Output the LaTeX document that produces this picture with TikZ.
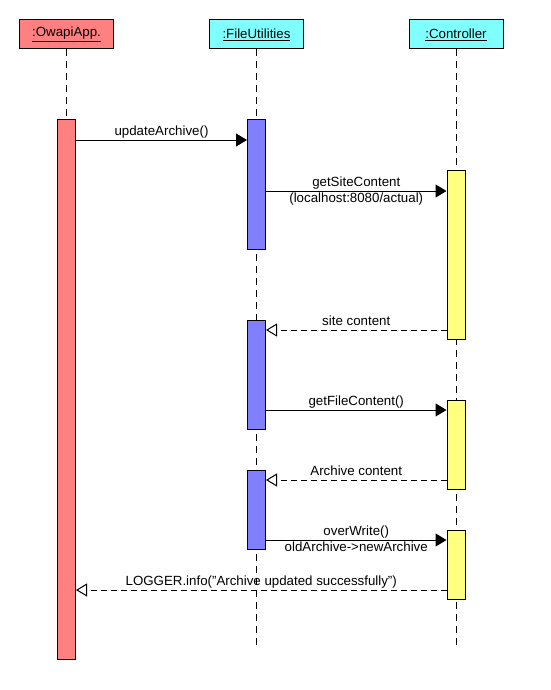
\documentclass[tikz,border=0pt]{standalone}
\usepackage{fontspec}
\setmainfont{Liberation Sans}
\usepackage{xcolor}
\usetikzlibrary{positioning}
\usetikzlibrary{arrows.meta}
\usetikzlibrary{calc}
\definecolor{owapired}{HTML}{FF8080}
\definecolor{headcyan}{HTML}{80FFFF}
\definecolor{fublue}{HTML}{8080FF}
\definecolor{ctrlyellow}{HTML}{FFFF80}
\tikzset{
  objbox/.style={draw, line width=1pt, minimum width=94pt, minimum height=29pt,
    inner sep=0pt, font=\fontsize{13.3}{15}\selectfont},
  actbar/.style={draw, line width=1pt, minimum width=18pt, inner sep=0pt},
  lifeline/.style={line width=1pt, dash pattern=on 7pt off 5pt},
  call/.style={line width=1pt, -{Triangle[length=11pt,width=13pt]}},
  reply/.style={line width=1pt, dash pattern=on 6pt off 4pt,
    -{Triangle[open,length=11pt,width=13pt]}},
  msglbl/.style={font=\fontsize{13.3}{15}\selectfont, inner sep=1pt,
    text height=9.5pt, text depth=3pt}
}

\begin{document}
\begin{tikzpicture}[x=1pt, y=-1pt]
\useasboundingbox (0,0) rectangle (550,690);

% Objects
\node[objbox, fill=owapired] (owapi) at (66.5,34.5) {\underline{:OwapiApp.}};
\node[objbox, fill=headcyan] (fileutil) at (256.5,34.5) {\underline{:FileUtilities}};
\node[objbox, fill=headcyan] (ctrl) at (456,34.5) {\underline{:Controller}};

% Lifelines
\coordinate (owapiend) at (66.5,659);
\coordinate (fileutilend) at (256.5,649);
\coordinate (ctrlend) at (456,647);
\draw[lifeline] (owapi.south) -- (owapiend);
\draw[lifeline] (fileutil.south) -- (fileutilend);
\draw[lifeline] (ctrl.south) -- (ctrlend);

% Activations
\node[actbar, fill=owapired, minimum height=539pt] (ob1) at (66.5,389.5) {};
\node[actbar, fill=fublue, minimum height=129pt] (fb1) at (256.5,184.5) {};
\node[actbar, fill=fublue, minimum height=109pt] (fb2) at (256.5,374.5) {};
\node[actbar, fill=fublue, minimum height=79pt] (fb3) at (256.5,509.5) {};
\node[actbar, fill=ctrlyellow, minimum height=169pt] (cb1) at (456,254.5) {};
\node[actbar, fill=ctrlyellow, minimum height=89pt] (cb2) at (456,444.5) {};
\node[actbar, fill=ctrlyellow, minimum height=69pt] (cb3) at (456,564.5) {};

% Messages
\draw[call] (ob1.east |- 0,140) -- (fb1.west |- 0,140)
    node[msglbl, midway, above]{updateArchive()};
\draw[call] (fb1.east |- 0,191) -- (cb1.west |- 0,191)
    node[msglbl, midway, above]{getSiteContent}
    node[msglbl, midway, below]{(localhost:8080/actual)};
\draw[reply] (cb1.west |- 0,330) -- (fb2.east |- 0,330)
    node[msglbl, midway, above]{site content};
\draw[call] (fb2.east |- 0,410) -- (cb2.west |- 0,410)
    node[msglbl, midway, above]{getFileContent()};
\draw[reply] (cb2.west |- 0,480) -- (fb3.east |- 0,480)
    node[msglbl, midway, above]{Archive content};
\draw[call] (fb3.east |- 0,540) -- (cb3.west |- 0,540)
    node[msglbl, midway, above]{overWrite()}
    node[msglbl, midway, below]{oldArchive->newArchive};
\draw[reply] (cb3.west |- 0,590) -- (ob1.east |- 0,590)
    node[msglbl, midway, above]{LOGGER.info("Archive updated successfully")};
\end{tikzpicture}
\end{document}
